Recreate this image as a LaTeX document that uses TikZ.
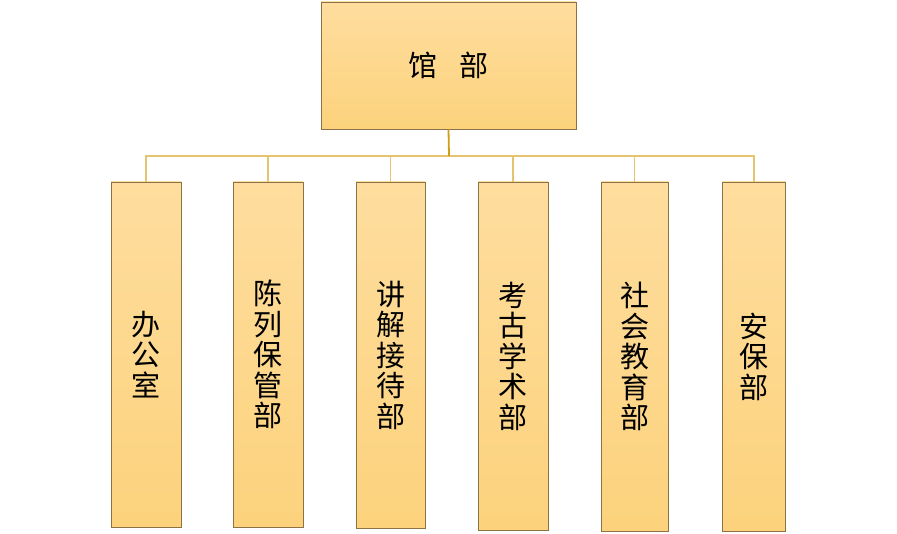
\documentclass[tikz,border=0pt]{standalone}
\usepackage{fontspec}
\setmainfont{Noto Sans CJK SC}
\definecolor{boxtop}{RGB}{254,221,158}
\definecolor{boxbot}{RGB}{252,210,124}
\definecolor{boxline}{RGB}{139,115,70}
\definecolor{linkdark}{RGB}{206,158,20}
\definecolor{linklight}{RGB}{228,196,110}

\begin{document}
\begin{tikzpicture}[x=1pt,y=1pt,
  dept/.style={draw=boxline, line width=0.9pt, top color=boxtop, bottom color=boxbot,
    inner sep=0pt, align=center, font=\fontsize{29}{30.5}\selectfont},
  link/.style={draw=linklight, line width=1.1pt},
  trunk/.style={draw=linkdark, line width=1.8pt}]
\useasboundingbox (0,0) rectangle (897,534);

\node[dept, minimum width=255pt, minimum height=127pt] (G) at (448.5,468.5) {馆\hspace{0.75em}部};
\node[dept, minimum width=70pt, minimum height=345pt] (A) at (146,179.5) {办\\公\\室};
\node[dept, minimum width=70pt, minimum height=345pt] (B) at (268,179.5) {陈\\列\\保\\管\\部};
\node[dept, minimum width=69pt, minimum height=346pt] (C) at (390.5,179) {讲\\解\\接\\待\\部};
\node[dept, minimum width=70pt, minimum height=348pt] (D) at (513,178) {考\\古\\学\\术\\部};
\node[dept, minimum width=67pt, minimum height=349pt] (E) at (634.8,177.5) {社\\会\\教\\育\\部};
\node[dept, minimum width=63pt, minimum height=349pt] (F) at (754,177.5) {安\\保\\部};

\coordinate (bus) at (449,378);

\draw[link] (bus) -| (A.north);
\draw[link] (bus) -| (B.north);
\draw[link] (bus) -| (C.north);
\draw[link] (bus) -| (D.north);
\draw[link] (bus) -| (E.north);
\draw[link] (bus) -| (F.north);
\draw[trunk] (G.south) -- (bus);
\end{tikzpicture}
\end{document}
